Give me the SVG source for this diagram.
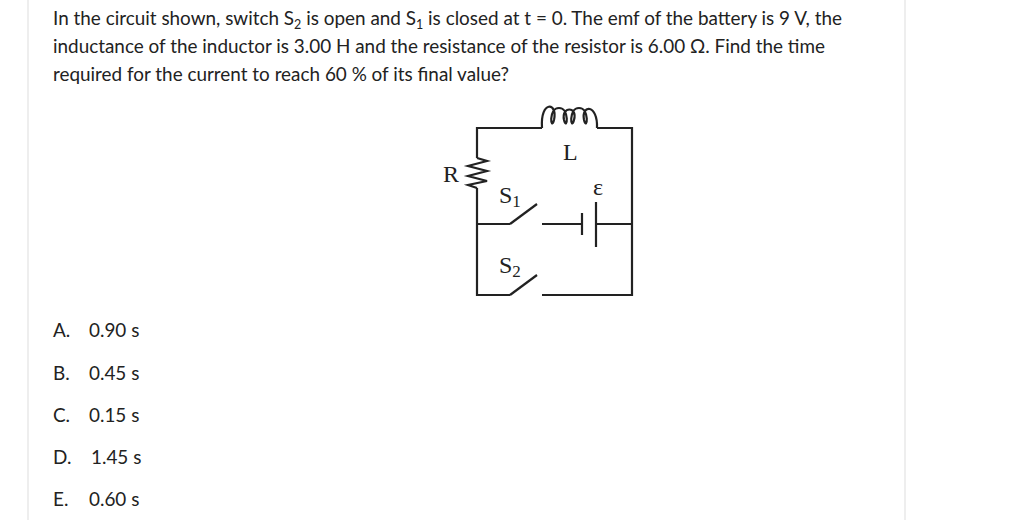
<svg xmlns="http://www.w3.org/2000/svg" width="1024" height="520" viewBox="0 0 1024 520">
<style>
.t{font-family:Lato,"Liberation Sans",sans-serif;font-size:18.9px;fill:#222}
.s{font-family:"Liberation Serif",serif;font-size:24px;fill:#222}
.w{fill:none;stroke:#222;stroke-width:2.2}
</style>
<rect width="1024" height="520" fill="#fff"/>
<line x1="28" y1="0" x2="28" y2="520" stroke="#ddd"/>
<line x1="905" y1="0" x2="905" y2="520" stroke="#ddd"/>
<text class="t" x="53" y="25">In the circuit shown, switch S<tspan font-size="12.5" dy="4">2</tspan><tspan dy="-4"> is open and S</tspan><tspan font-size="12.5" dy="4">1</tspan><tspan dy="-4"> is closed at t = 0. The emf of the battery is 9 V, the</tspan></text>
<text class="t" x="53" y="53">inductance of the inductor is 3.00 H and the resistance of the resistor is 6.00 Ω. Find the time</text>
<text class="t" x="53" y="81">required for the current to reach 60 % of its final value?</text>
<g id="circuit">
<g id="connectors">
<path class="w" d="M542 128H477V158M477 188V295H510M510 224H477M542 224H582M596 224H632M597 128H632V295H542"/>
</g>
<g id="resistor"><path class="w" d="M477 158L487 161L468 166L487 171L468 176L487 181L468 185L477 188"/><text class="s" x="443" y="182">R</text></g>
<g id="inductor"><path class="w" d="M542 128C540 100 558 102 554 120C551 132 548 108 559 108C570 108 567 132 564 120C561 106 578 106 574 120C571 132 568 108 579 108C590 108 587 132 584 120C581 104 598 104 597 128"/><text class="s" x="563" y="160">L</text></g>
<g id="s1"><path class="w" d="M510 224L537 204"/><text class="s" x="499" y="203">S<tspan font-size="17" dy="4">1</tspan></text></g>
<g id="battery"><path class="w" d="M582 213V235M596 202V247"/><text class="s" x="593" y="195" font-size="30">ε</text></g>
<g id="s2"><path class="w" d="M510 295L537 275"/><text class="s" x="499" y="273">S<tspan font-size="17" dy="4">2</tspan></text></g>
</g>
<g class="t">
<text x="53" y="337">A.</text><text x="89" y="337">0.90 s</text>
<text x="53" y="380">B.</text><text x="89" y="380">0.45 s</text>
<text x="53" y="422">C.</text><text x="89" y="422">0.15 s</text>
<text x="53" y="464">D.</text><text x="91" y="464">1.45 s</text>
<text x="53" y="506">E.</text><text x="89" y="506">0.60 s</text>
</g>
</svg>
